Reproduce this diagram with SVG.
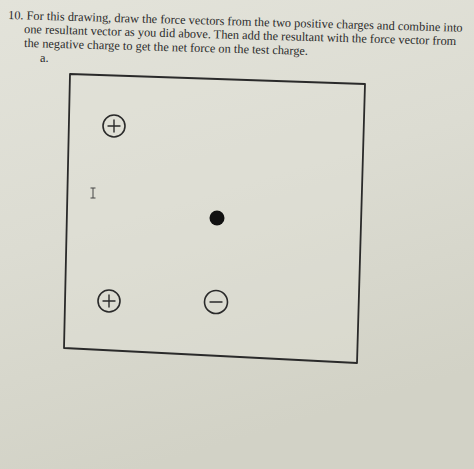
<svg xmlns="http://www.w3.org/2000/svg" width="474" height="469" viewBox="0 0 474 469">
<style>
.t{font-family:"Liberation Serif","Times New Roman",serif;font-size:12.35px;fill:#2b2b2b}
.ring{fill:none;stroke:#2a2a2a;stroke-width:1.6}
.sign{stroke:#2a2a2a;stroke-width:1.4;stroke-linecap:round}
</style>
<defs>
<linearGradient id="bg" x1="0" y1="0" x2="0.3" y2="1">
<stop offset="0" stop-color="#e3e3da"/>
<stop offset="0.5" stop-color="#dcdcd2"/>
<stop offset="1" stop-color="#d2d2c6"/>
</linearGradient>
</defs>
<rect width="474" height="469" fill="url(#bg)"/>
<g id="question">
<text class="t" x="8" y="19" transform="rotate(1.6 8 19)">10. For this drawing, draw the force vectors from the two positive charges and combine  into</text>
<text class="t" x="24" y="33" transform="rotate(1.6 24 33)">one resultant vector as you did above. Then add the resultant with the force vector from</text>
<text class="t" x="24" y="47" transform="rotate(1.6 24 47)">the negative charge to get the net force on the test charge.</text>
<text class="t" x="40" y="62">a.</text>
</g>
<g id="frame">
<polygon points="70,74 365,84 357,363 64,348" fill="#e0e0d6" fill-opacity="0.4" stroke="#2a2a2a" stroke-width="1.8" stroke-linejoin="round"/>
</g>
<g id="charge-top-positive">
<circle class="ring" cx="114" cy="126" r="11"/>
<line class="sign" x1="108" y1="126" x2="120" y2="126"/>
<line class="sign" x1="114" y1="120" x2="114" y2="132"/>
</g>
<g id="charge-bottom-positive">
<circle class="ring" cx="109" cy="301" r="11"/>
<line class="sign" x1="103" y1="301" x2="115" y2="301"/>
<line class="sign" x1="109" y1="295" x2="109" y2="307"/>
</g>
<g id="charge-negative">
<circle class="ring" cx="216" cy="302" r="11.5"/>
<line class="sign" x1="210" y1="302" x2="222" y2="302"/>
</g>
<g id="test-charge">
<circle cx="217" cy="218" r="7.5" fill="#111"/>
</g>
<g id="cursor">
<path d="M90.5,188 H95.5 M93,188 V198 M90.5,198 H95.5" stroke="#444" stroke-width="1" fill="none"/>
</g>
<g id="connectors"/>
</svg>
